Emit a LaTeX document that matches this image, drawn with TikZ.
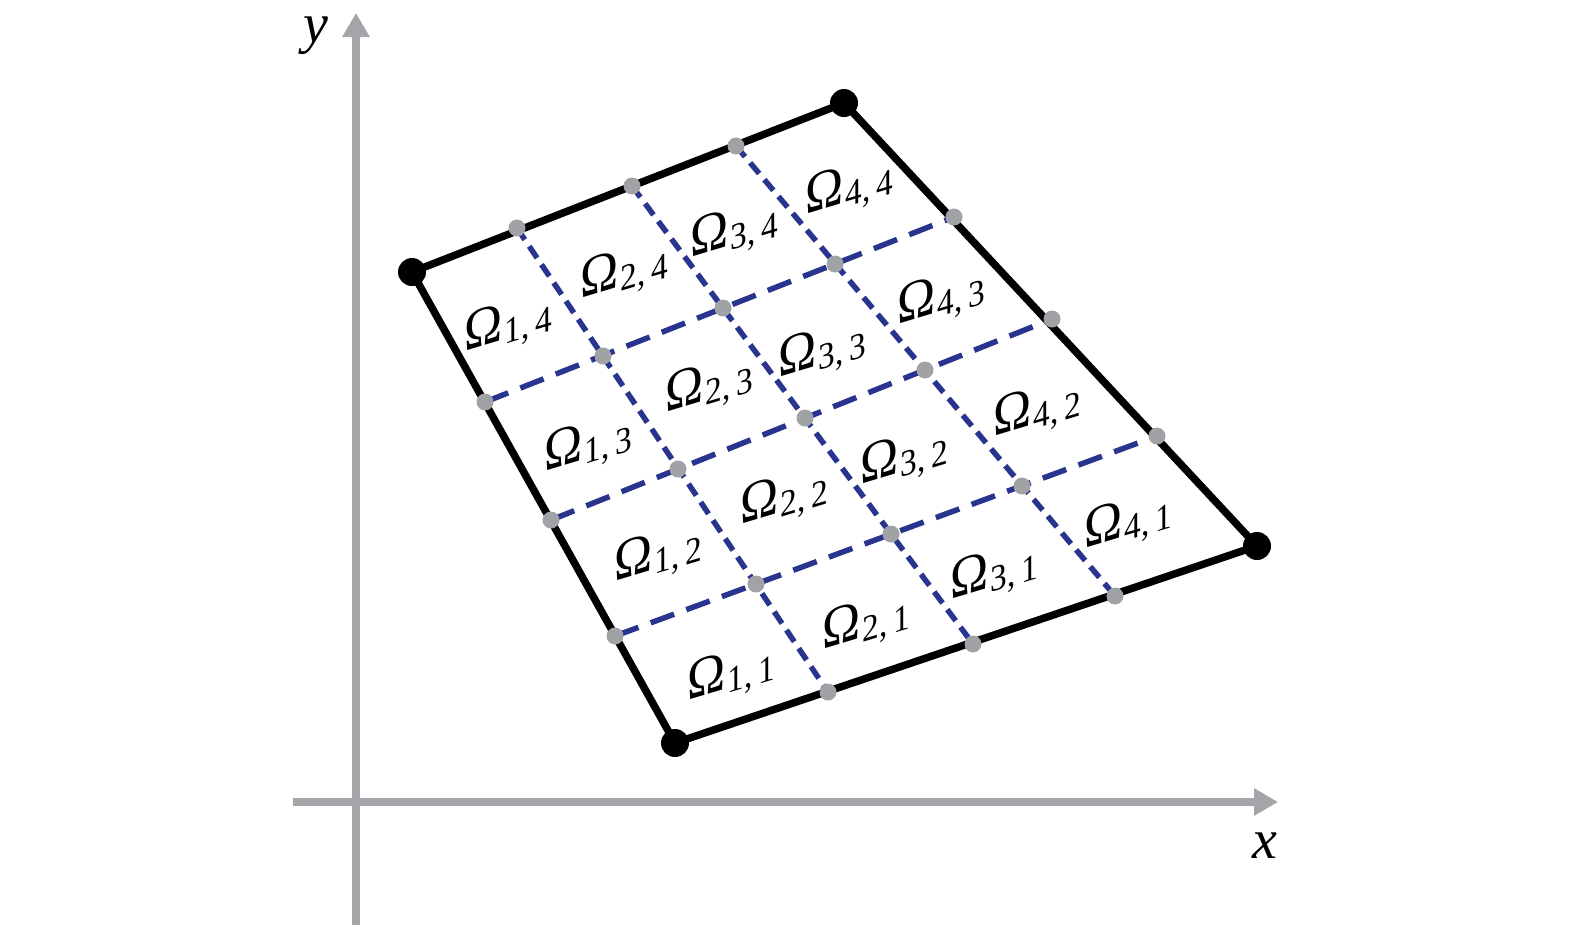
\documentclass[tikz,border=0pt]{standalone}
\usepackage{fontspec}
\setmainfont{Liberation Serif}
\usetikzlibrary{arrows.meta}
\definecolor{axisgray}{RGB}{163,165,168}
\definecolor{dotgray}{RGB}{160,162,166}
\definecolor{gridblue}{RGB}{40,52,142}
\tikzset{
  axisline/.style={draw=axisgray, line width=7.5pt, -{Triangle[length=24pt,width=26pt]}},
  outline/.style={draw=black, line width=7.5pt, line join=round},
  hdash/.style={draw=gridblue, line width=5.5pt, dash pattern=on 25pt off 13pt},
  vdash/.style={draw=gridblue, line width=5.5pt, dash pattern=on 14pt off 8pt},
  cdot/.style={circle, fill=black, inner sep=0pt, minimum size=28pt},
  gdot/.style={circle, fill=dotgray, inner sep=0pt, minimum size=17pt},
  cell/.style={inner sep=0pt, yslant=0.3, xscale=0.9, font=\fontsize{57}{57}\selectfont},
  axlabel/.style={inner sep=0pt, font=\fontsize{56}{56}\selectfont\itshape}
}
\newcommand{\om}[2]{Ω\kern3pt\raisebox{-5pt}{\fontsize{37}{37}\selectfont #1,\,#2}}
\begin{document}
\begin{tikzpicture}[x=1pt,y=-1pt]
\useasboundingbox (0,0) rectangle (1575,930);
% axes
\coordinate (ya) at (356,925);
\coordinate (yb) at (356,13);
\coordinate (xa) at (293,802);
\coordinate (xb) at (1278,802);
\draw[axisline] (ya) -- (yb);
\draw[axisline] (xa) -- (xb);
\node[axlabel] (ylab) at (316,36) {y};
\node[axlabel] (xlab) at (1265,846) {x};
% corners
\coordinate (TL) at (412,272);
\coordinate (TR) at (844,103);
\coordinate (BR) at (1257,546);
\coordinate (BL) at (675,743);
% edge points
\coordinate (T1) at (517,228);
\coordinate (T2) at (632,186);
\coordinate (T3) at (736,146);
\coordinate (B1) at (828,692);
\coordinate (B2) at (973,644);
\coordinate (B3) at (1115,596);
\coordinate (L1) at (615,636);
\coordinate (L2) at (551,520);
\coordinate (L3) at (485,402);
\coordinate (R1) at (1157,436);
\coordinate (R2) at (1052,319);
\coordinate (R3) at (954,217);
% interior crossings
\coordinate (P11) at (756,584);
\coordinate (P12) at (678,469);
\coordinate (P13) at (603,356);
\coordinate (P21) at (891,534);
\coordinate (P22) at (805,418);
\coordinate (P23) at (723,308);
\coordinate (P31) at (1022,486);
\coordinate (P32) at (925,370);
\coordinate (P33) at (835,264);
% grid lines
\foreach \i in {1,2,3}{
  \draw[vdash] (T\i) -- (B\i);
  \draw[hdash] (L\i) -- (R\i);
}
% outline
\draw[outline] (TL) -- (TR) -- (BR) -- (BL) -- cycle;
% dots
\foreach \p in {P11,P12,P13,P21,P22,P23,P31,P32,P33,T1,T2,T3,B1,B2,B3,L1,L2,L3,R1,R2,R3}{
  \node[gdot] (d\p) at (\p) {};
}
\foreach \p in {TL,TR,BR,BL}{
  \node[cdot] (d\p) at (\p) {};
}
% cell labels
\node[cell] (c14) at (508,325) {\om{1}{4}};
\node[cell] (c24) at (624,272) {\om{2}{4}};
\node[cell] (c34) at (734,231) {\om{3}{4}};
\node[cell] (c44) at (849,188) {\om{4}{4}};
\node[cell] (c13) at (588,445) {\om{1}{3}};
\node[cell] (c23) at (709,386) {\om{2}{3}};
\node[cell] (c33) at (822,351) {\om{3}{3}};
\node[cell] (c43) at (941,298) {\om{4}{3}};
\node[cell] (c12) at (658,555) {\om{1}{2}};
\node[cell] (c22) at (784,498) {\om{2}{2}};
\node[cell] (c32) at (904,458) {\om{3}{2}};
\node[cell] (c42) at (1037,410) {\om{4}{2}};
\node[cell] (c11) at (731,674) {\om{1}{1}};
\node[cell] (c21) at (866,623) {\om{2}{1}};
\node[cell] (c31) at (994,573) {\om{3}{1}};
\node[cell] (c41) at (1128,522) {\om{4}{1}};
\end{tikzpicture}
\end{document}
